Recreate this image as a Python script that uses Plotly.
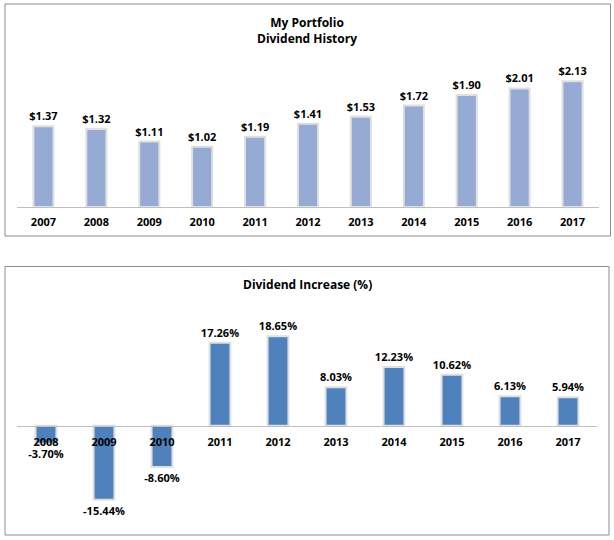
import plotly.graph_objects as go

# data
years_top = ["2007", "2008", "2009", "2010", "2011", "2012", "2013", "2014", "2015", "2016", "2017"]
dividends = [1.37, 1.32, 1.11, 1.02, 1.19, 1.41, 1.53, 1.72, 1.90, 2.01, 2.13]

years_bot = ["2008", "2009", "2010", "2011", "2012", "2013", "2014", "2015", "2016", "2017"]
increase = [-3.70, -15.44, -8.60, 17.26, 18.65, 8.03, 12.23, 10.62, 6.13, 5.94]

font_name = "Open Sans"
W, H = 614, 540

def px(x):
    return x / W

def py(y):
    return 1 - y / H

fig = go.Figure()

# top chart - dividend history
fig.add_trace(go.Bar(
    x=years_top, y=dividends, xaxis="x", yaxis="y",
    marker=dict(color="#95ABD3", line=dict(color="#E0E0E0", width=2)),
    width=0.38,
    texttemplate="$%{y:.2f}", textposition="outside", constraintext="none",
    textfont=dict(family=font_name, size=11, color="black", weight="bold"),
    cliponaxis=False, hoverinfo="skip",
))

# bottom chart - dividend increase
fig.add_trace(go.Bar(
    x=years_bot, y=increase, xaxis="x2", yaxis="y2",
    marker=dict(color="#4F81BD", line=dict(color="#E0E0E0", width=2)),
    width=0.36,
    texttemplate="%{y:.2f}%", textposition="outside", constraintext="none",
    textfont=dict(family=font_name, size=11, color="black", weight="bold"),
    cliponaxis=False, hoverinfo="skip",
))

tickfont = dict(family=font_name, size=11, color="black", weight="bold")

fig.update_layout(
    width=W, height=H,
    margin=dict(l=0, r=0, t=0, b=0),
    paper_bgcolor="white", plot_bgcolor="white",
    showlegend=False,
    font=dict(family=font_name, color="black"),
    xaxis=dict(domain=[px(17), px(599)], anchor="y", type="category",
               showline=True, linecolor="#BFBFBF", linewidth=1,
               ticks="outside", ticklen=5, tickcolor="rgba(0,0,0,0)",
               tickfont=tickfont, showgrid=False),
    yaxis=dict(domain=[py(207), py(59.5)], range=[0, 2.5],
               visible=False, fixedrange=True),
    xaxis2=dict(domain=[px(17), px(597)], anchor="free",
                position=py(425.7), type="category",
                showline=True, linecolor="#BFBFBF", linewidth=1,
                ticks="outside", ticklen=6, tickcolor="rgba(0,0,0,0)",
                tickfont=tickfont, showgrid=False),
    yaxis2=dict(domain=[py(521.7), py(305.7)], range=[-20, 25],
                visible=False, fixedrange=True),
    annotations=[
        dict(text="<b>My Portfolio<br>Dividend History</b>", xref="paper", yref="paper",
             x=0.5, y=py(30), xanchor="center", yanchor="middle",
             showarrow=False, font=dict(family=font_name, size=12, color="black")),
        dict(text="<b>Dividend Increase (%)</b>", xref="paper", yref="paper",
             x=0.5, y=py(284), xanchor="center", yanchor="middle",
             showarrow=False, font=dict(family=font_name, size=12, color="black")),
    ],
    shapes=[
        dict(type="rect", xref="paper", yref="paper",
             x0=px(5), x1=px(610.5), y0=py(236), y1=py(4),
             line=dict(color="#8C8C8C", width=1)),
        dict(type="rect", xref="paper", yref="paper",
             x0=px(5), x1=px(609), y0=py(535), y1=py(266.5),
             line=dict(color="#8C8C8C", width=1)),
    ],
)

# drop the default body margin so the figure fills the window, no modebar
fig.write_html("out.html", config={"displayModeBar": False},
               post_script="document.body.style.margin='0';")
